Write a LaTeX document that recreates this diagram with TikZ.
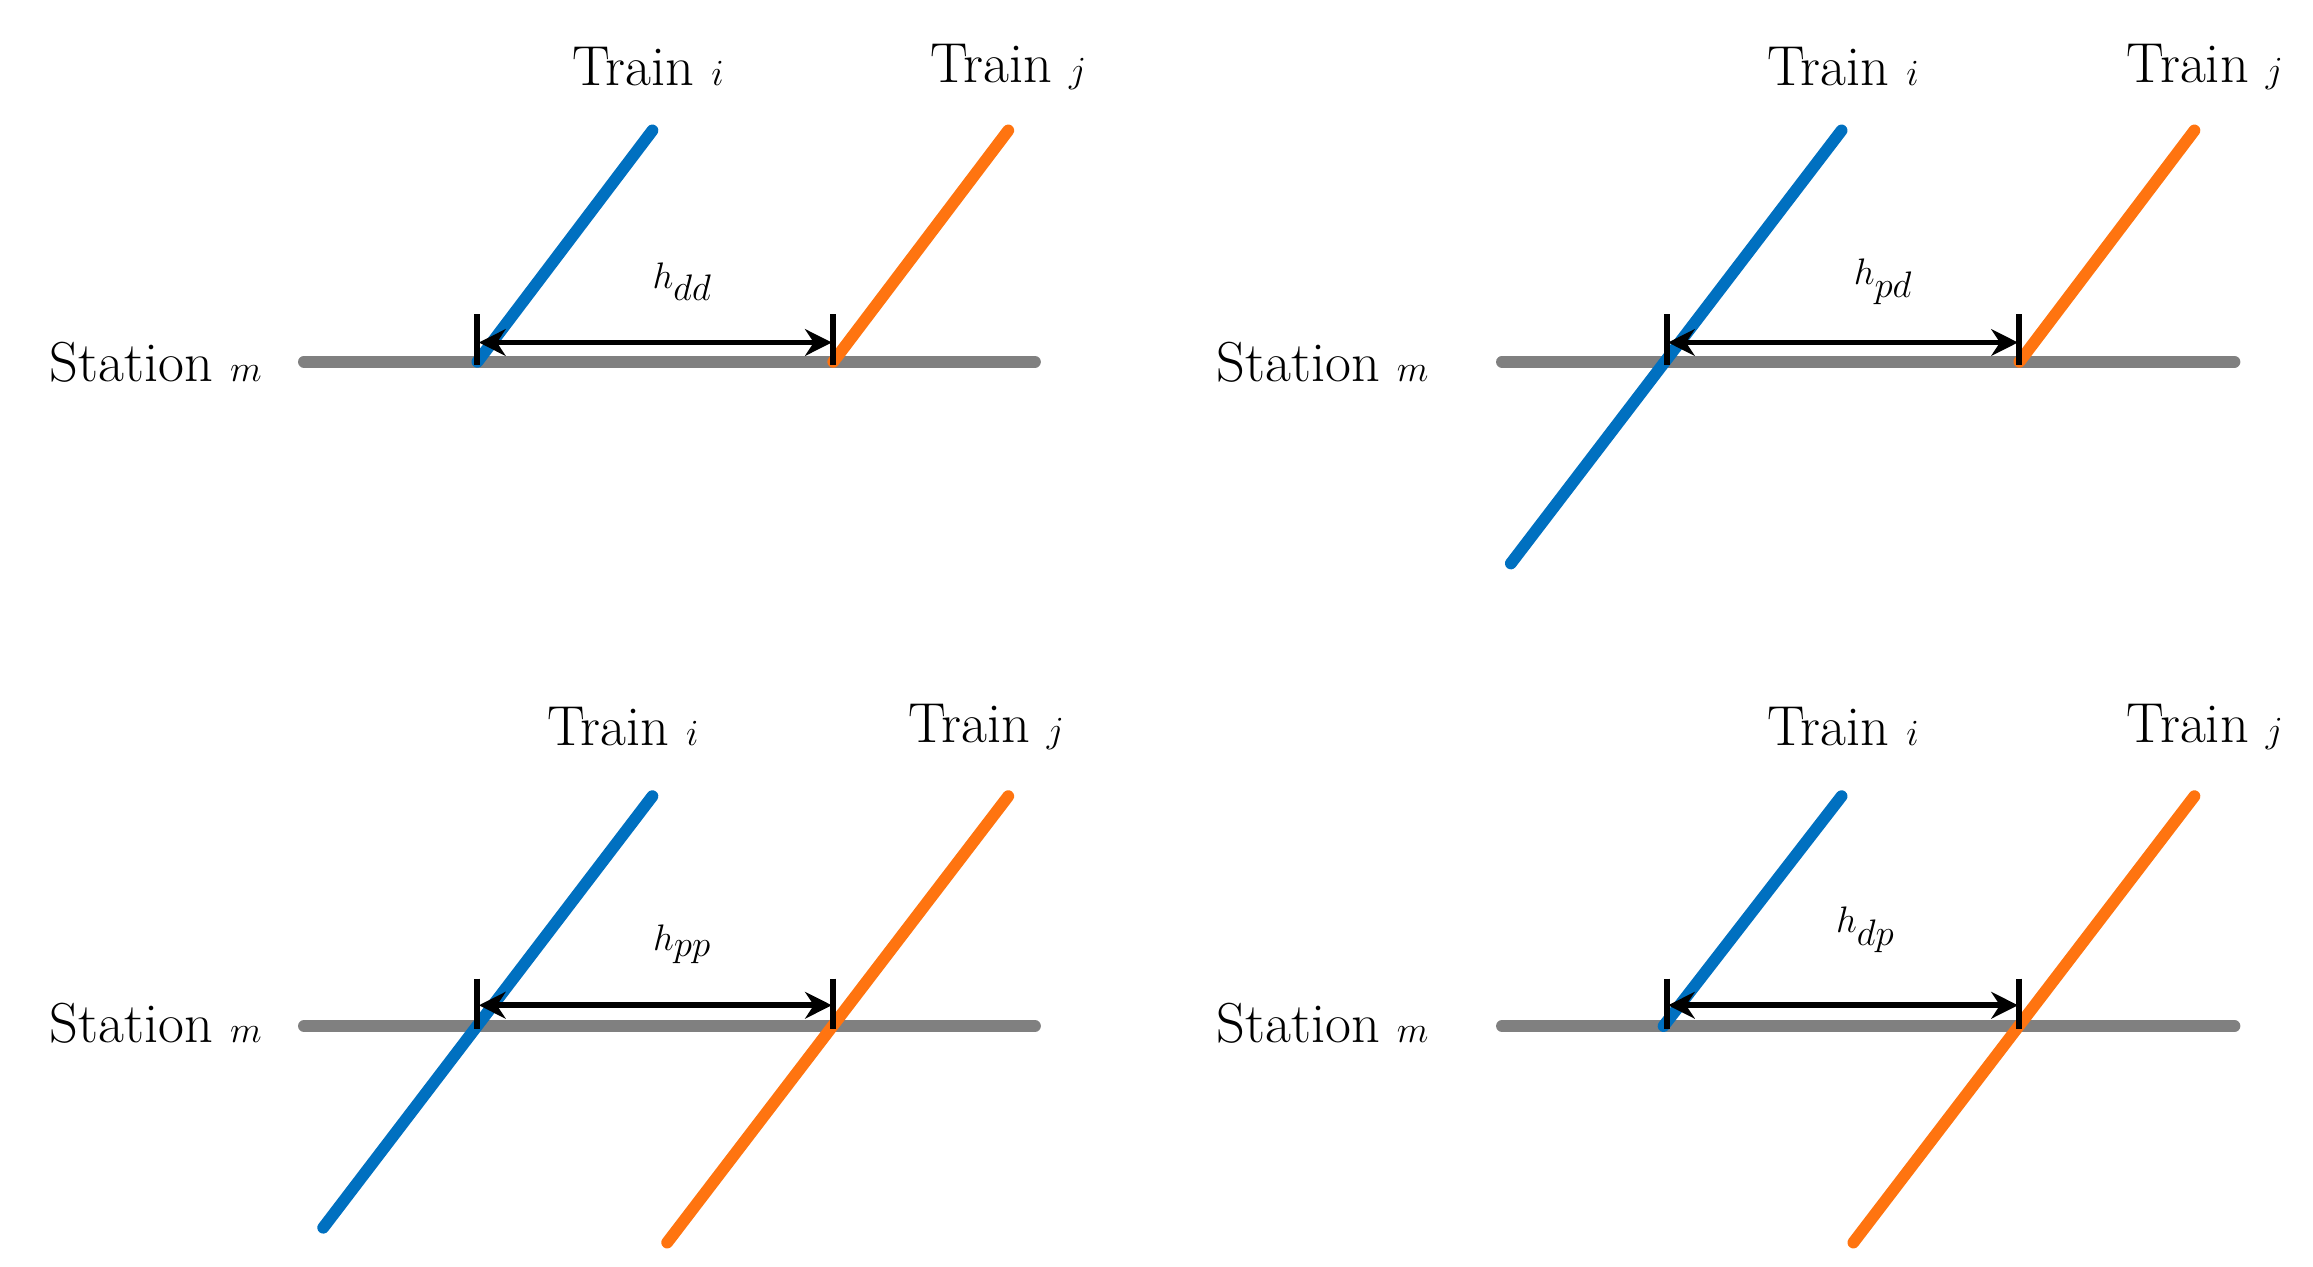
\documentclass[tikz,border=0pt]{standalone}
\usetikzlibrary{arrows.meta}
\definecolor{tblue}{HTML}{0070C0}
\definecolor{torange}{HTML}{FF7410}
\definecolor{tgray}{HTML}{808080}
\begin{document}
\begin{tikzpicture}[x=1pt,y=-1pt,
  station/.style={line width=8pt,tgray,line cap=round},
  trainI/.style={line width=8pt,tblue,line cap=round},
  trainJ/.style={line width=8pt,torange,line cap=round},
  tick/.style={line width=4pt,black},
  gap/.style={line width=4pt,black,{Stealth[length=18pt,width=18pt]}-{Stealth[length=18pt,width=18pt]},shorten <=1pt,shorten >=1pt},
  lab/.style={font=\fontsize{38}{46}\selectfont,inner sep=0pt}]
\useasboundingbox (0,0) rectangle (1560,854);
% panel TL
\draw[station] (205,244) -- (698,244);
\draw[trainI] (322,244) -- (440,88);
\draw[trainJ] (562,244) -- (680,88);
\coordinate (a1) at (322,231); \coordinate (b1) at (562,231);
\draw[tick] (322,212) -- (322,246); \draw[tick] (562,212) -- (562,246);
\draw[gap] (a1) -- (b1);
\node[lab] (h1) at (460,190) {$h_{dd}$};
\node[lab] (ti1) at (437,45) {Train $i$};
\node[lab] (tj1) at (680,45) {Train $j$};
\node[lab] (s1) at (105,244) {Station $m$};
% panel TR
\draw[station] (1013,244) -- (1507,244);
\draw[trainI] (1019,380) -- (1242,88);
\draw[trainJ] (1362,244) -- (1480,88);
\coordinate (a2) at (1124,231); \coordinate (b2) at (1362,231);
\draw[tick] (1124,212) -- (1124,246); \draw[tick] (1362,212) -- (1362,246);
\draw[gap] (a2) -- (b2);
\node[lab] (h2) at (1270,190) {$h_{pd}$};
\node[lab] (ti2) at (1243,45) {Train $i$};
\node[lab] (tj2) at (1487,45) {Train $j$};
\node[lab] (s2) at (892,244) {Station $m$};
% panel BL
\draw[station] (205,692) -- (698,692);
\draw[trainI] (218,828) -- (440,537);
\draw[trainJ] (450,838) -- (680,537);
\coordinate (a3) at (322,678); \coordinate (b3) at (562,678);
\draw[tick] (322,660) -- (322,694); \draw[tick] (562,660) -- (562,694);
\draw[gap] (a3) -- (b3);
\node[lab] (h3) at (460,637) {$h_{pp}$};
\node[lab] (ti3) at (420,490) {Train $i$};
\node[lab] (tj3) at (665,490) {Train $j$};
\node[lab] (s3) at (105,690) {Station $m$};
% panel BR
\draw[station] (1013,692) -- (1507,692);
\draw[trainI] (1122,692) -- (1242,537);
\draw[trainJ] (1250,838) -- (1480,537);
\coordinate (a4) at (1124,678); \coordinate (b4) at (1362,678);
\draw[tick] (1124,660) -- (1124,694); \draw[tick] (1362,660) -- (1362,694);
\draw[gap] (a4) -- (b4);
\node[lab] (h4) at (1258,627) {$h_{dp}$};
\node[lab] (ti4) at (1243,490) {Train $i$};
\node[lab] (tj4) at (1487,490) {Train $j$};
\node[lab] (s4) at (892,690) {Station $m$};
\end{tikzpicture}
\end{document}
